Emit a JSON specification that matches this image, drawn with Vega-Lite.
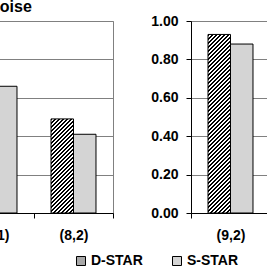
{
"$schema": "https://vega.github.io/schema/vega-lite/v6.json",
"padding": {"left": -86, "top": -2, "right": 0, "bottom": 0},
"title": {"text": "Noise", "anchor": "start", "dx": 74, "offset": -1, "font": "Liberation Sans", "fontSize": 16, "fontWeight": "bold", "color": "#000"},
"data": {"values": [
 {"panel": "left", "cat": "(8,1)", "series": "D-STAR", "value": 0.72},
 {"panel": "left", "cat": "(8,1)", "series": "S-STAR", "value": 0.66},
 {"panel": "left", "cat": "(8,2)", "series": "D-STAR", "value": 0.49},
 {"panel": "left", "cat": "(8,2)", "series": "S-STAR", "value": 0.41},
 {"panel": "right", "cat": "(9,2)", "series": "D-STAR", "value": 0.93},
 {"panel": "right", "cat": "(9,2)", "series": "S-STAR", "value": 0.88}
]},
"spacing": 36,
"hconcat": [
 {
  "width": 158, "height": 192,
  "transform": [{"filter": "datum.panel === 'left'"}],
  "mark": {"type": "bar", "stroke": "#000", "strokeWidth": 1},
  "encoding": {
   "x": {"field": "cat", "type": "nominal", "sort": null, "title": null, "scale": {"paddingInner": 0, "paddingOuter": 0}, "axis": {"labelAngle": 0, "tickBand": "extent", "labelPadding": 10}},
   "xOffset": {"field": "series", "type": "nominal", "scale": {"domain": ["D-STAR", "S-STAR"], "paddingInner": 0, "paddingOuter": 0.7556}},
   "y": {"field": "value", "type": "quantitative", "stack": null, "title": null, "scale": {"domain": [0, 1], "nice": false}, "axis": {"values": [0, 0.2, 0.4, 0.6, 0.8, 1], "format": ".2f", "labelPadding": 8}},
   "color": {
    "field": "series", "type": "nominal",
    "scale": {"domain": ["D-STAR", "S-STAR"], "range": ["#a8a8a8", "#d4d4d4"]},
    "legend": {"title": null, "orient": "none", "legendX": 119, "legendY": 233, "direction": "horizontal", "symbolType": "square", "symbolSize": 81, "symbolStrokeColor": "#000", "symbolStrokeWidth": 1, "symbolOpacity": 1, "labelFont": "Liberation Sans", "labelFontSize": 14, "labelFontWeight": "bold", "labelColor": "#000", "labelOffset": 3, "columnPadding": 27, "padding": 0},
    "condition": {"test": "datum.series === 'D-STAR' && datum.cat === '(8,2)'", "value": {"gradient": "linear", "x1": 0, "y1": 0, "x2": 0.30056, "y2": 1.25677, "stops": [
{"offset":0,"color":"#000"},
{"offset":0.016,"color":"#000"},{"offset":0.016,"color":"#fff"},
{"offset":0.032,"color":"#fff"},{"offset":0.032,"color":"#000"},
{"offset":0.048,"color":"#000"},{"offset":0.048,"color":"#fff"},
{"offset":0.064,"color":"#fff"},{"offset":0.064,"color":"#000"},
{"offset":0.08,"color":"#000"},{"offset":0.08,"color":"#fff"},
{"offset":0.096,"color":"#fff"},{"offset":0.096,"color":"#000"},
{"offset":0.112,"color":"#000"},{"offset":0.112,"color":"#fff"},
{"offset":0.128,"color":"#fff"},{"offset":0.128,"color":"#000"},
{"offset":0.144,"color":"#000"},{"offset":0.144,"color":"#fff"},
{"offset":0.16,"color":"#fff"},{"offset":0.16,"color":"#000"},
{"offset":0.176,"color":"#000"},{"offset":0.176,"color":"#fff"},
{"offset":0.192,"color":"#fff"},{"offset":0.192,"color":"#000"},
{"offset":0.208,"color":"#000"},{"offset":0.208,"color":"#fff"},
{"offset":0.224,"color":"#fff"},{"offset":0.224,"color":"#000"},
{"offset":0.24,"color":"#000"},{"offset":0.24,"color":"#fff"},
{"offset":0.256,"color":"#fff"},{"offset":0.256,"color":"#000"},
{"offset":0.272,"color":"#000"},{"offset":0.272,"color":"#fff"},
{"offset":0.288,"color":"#fff"},{"offset":0.288,"color":"#000"},
{"offset":0.304,"color":"#000"},{"offset":0.304,"color":"#fff"},
{"offset":0.32,"color":"#fff"},{"offset":0.32,"color":"#000"},
{"offset":0.336,"color":"#000"},{"offset":0.336,"color":"#fff"},
{"offset":0.352,"color":"#fff"},{"offset":0.352,"color":"#000"},
{"offset":0.368,"color":"#000"},{"offset":0.368,"color":"#fff"},
{"offset":0.384,"color":"#fff"},{"offset":0.384,"color":"#000"},
{"offset":0.4,"color":"#000"},{"offset":0.4,"color":"#fff"},
{"offset":0.416,"color":"#fff"},{"offset":0.416,"color":"#000"},
{"offset":0.432,"color":"#000"},{"offset":0.432,"color":"#fff"},
{"offset":0.448,"color":"#fff"},{"offset":0.448,"color":"#000"},
{"offset":0.464,"color":"#000"},{"offset":0.464,"color":"#fff"},
{"offset":0.48,"color":"#fff"},{"offset":0.48,"color":"#000"},
{"offset":0.496,"color":"#000"},{"offset":0.496,"color":"#fff"},
{"offset":0.512,"color":"#fff"},{"offset":0.512,"color":"#000"},
{"offset":0.528,"color":"#000"},{"offset":0.528,"color":"#fff"},
{"offset":0.544,"color":"#fff"},{"offset":0.544,"color":"#000"},
{"offset":0.56,"color":"#000"},{"offset":0.56,"color":"#fff"},
{"offset":0.576,"color":"#fff"},{"offset":0.576,"color":"#000"},
{"offset":0.592,"color":"#000"},{"offset":0.592,"color":"#fff"},
{"offset":0.608,"color":"#fff"},{"offset":0.608,"color":"#000"},
{"offset":0.624,"color":"#000"},{"offset":0.624,"color":"#fff"},
{"offset":0.64,"color":"#fff"},{"offset":0.64,"color":"#000"},
{"offset":0.656,"color":"#000"},{"offset":0.656,"color":"#fff"},
{"offset":0.672,"color":"#fff"},{"offset":0.672,"color":"#000"},
{"offset":0.688,"color":"#000"},{"offset":0.688,"color":"#fff"},
{"offset":0.704,"color":"#fff"},{"offset":0.704,"color":"#000"},
{"offset":0.72,"color":"#000"},{"offset":0.72,"color":"#fff"},
{"offset":0.736,"color":"#fff"},{"offset":0.736,"color":"#000"},
{"offset":0.752,"color":"#000"},{"offset":0.752,"color":"#fff"},
{"offset":0.768,"color":"#fff"},{"offset":0.768,"color":"#000"},
{"offset":0.784,"color":"#000"},{"offset":0.784,"color":"#fff"},
{"offset":0.8,"color":"#fff"},{"offset":0.8,"color":"#000"},
{"offset":0.816,"color":"#000"},{"offset":0.816,"color":"#fff"},
{"offset":0.832,"color":"#fff"},{"offset":0.832,"color":"#000"},
{"offset":0.848,"color":"#000"},{"offset":0.848,"color":"#fff"},
{"offset":0.864,"color":"#fff"},{"offset":0.864,"color":"#000"},
{"offset":0.88,"color":"#000"},{"offset":0.88,"color":"#fff"},
{"offset":0.896,"color":"#fff"},{"offset":0.896,"color":"#000"},
{"offset":0.912,"color":"#000"},{"offset":0.912,"color":"#fff"},
{"offset":0.928,"color":"#fff"},{"offset":0.928,"color":"#000"},
{"offset":0.944,"color":"#000"},{"offset":0.944,"color":"#fff"},
{"offset":0.96,"color":"#fff"},{"offset":0.96,"color":"#000"},
{"offset":0.976,"color":"#000"},{"offset":0.976,"color":"#fff"},
{"offset":0.992,"color":"#fff"},{"offset":0.992,"color":"#000"},
{"offset":1,"color":"#000"}
    ]}}
   }
  }
 },
 {
  "width": 79, "height": 192,
  "transform": [{"filter": "datum.panel === 'right'"}],
  "mark": {"type": "bar", "stroke": "#000", "strokeWidth": 1},
  "encoding": {
   "x": {"field": "cat", "type": "nominal", "sort": null, "title": null, "scale": {"paddingInner": 0, "paddingOuter": 0}, "axis": {"labelAngle": 0, "tickBand": "extent", "labelPadding": 10}},
   "xOffset": {"field": "series", "type": "nominal", "scale": {"domain": ["D-STAR", "S-STAR"], "paddingInner": 0, "paddingOuter": 0.7556}},
   "y": {"field": "value", "type": "quantitative", "stack": null, "title": null, "scale": {"domain": [0, 1], "nice": false}, "axis": {"values": [0, 0.2, 0.4, 0.6, 0.8, 1], "format": ".2f", "labelPadding": 8}},
   "color": {
    "field": "series", "type": "nominal",
    "scale": {"domain": ["D-STAR", "S-STAR"], "range": ["#a8a8a8", "#d4d4d4"]},
    "condition": {"test": "datum.series === 'D-STAR' && datum.cat === '(9,2)'", "value": {"gradient": "linear", "x1": 0, "y1": 0, "x2": 0.13893, "y2": 1.10257, "stops": [
{"offset":0,"color":"#000"},
{"offset":0.01,"color":"#000"},{"offset":0.01,"color":"#fff"},
{"offset":0.02,"color":"#fff"},{"offset":0.02,"color":"#000"},
{"offset":0.03,"color":"#000"},{"offset":0.03,"color":"#fff"},
{"offset":0.04,"color":"#fff"},{"offset":0.04,"color":"#000"},
{"offset":0.05,"color":"#000"},{"offset":0.05,"color":"#fff"},
{"offset":0.06,"color":"#fff"},{"offset":0.06,"color":"#000"},
{"offset":0.07,"color":"#000"},{"offset":0.07,"color":"#fff"},
{"offset":0.08,"color":"#fff"},{"offset":0.08,"color":"#000"},
{"offset":0.09,"color":"#000"},{"offset":0.09,"color":"#fff"},
{"offset":0.1,"color":"#fff"},{"offset":0.1,"color":"#000"},
{"offset":0.11,"color":"#000"},{"offset":0.11,"color":"#fff"},
{"offset":0.12,"color":"#fff"},{"offset":0.12,"color":"#000"},
{"offset":0.13,"color":"#000"},{"offset":0.13,"color":"#fff"},
{"offset":0.14,"color":"#fff"},{"offset":0.14,"color":"#000"},
{"offset":0.15,"color":"#000"},{"offset":0.15,"color":"#fff"},
{"offset":0.16,"color":"#fff"},{"offset":0.16,"color":"#000"},
{"offset":0.17,"color":"#000"},{"offset":0.17,"color":"#fff"},
{"offset":0.18,"color":"#fff"},{"offset":0.18,"color":"#000"},
{"offset":0.19,"color":"#000"},{"offset":0.19,"color":"#fff"},
{"offset":0.2,"color":"#fff"},{"offset":0.2,"color":"#000"},
{"offset":0.21,"color":"#000"},{"offset":0.21,"color":"#fff"},
{"offset":0.22,"color":"#fff"},{"offset":0.22,"color":"#000"},
{"offset":0.23,"color":"#000"},{"offset":0.23,"color":"#fff"},
{"offset":0.24,"color":"#fff"},{"offset":0.24,"color":"#000"},
{"offset":0.25,"color":"#000"},{"offset":0.25,"color":"#fff"},
{"offset":0.26,"color":"#fff"},{"offset":0.26,"color":"#000"},
{"offset":0.27,"color":"#000"},{"offset":0.27,"color":"#fff"},
{"offset":0.28,"color":"#fff"},{"offset":0.28,"color":"#000"},
{"offset":0.29,"color":"#000"},{"offset":0.29,"color":"#fff"},
{"offset":0.3,"color":"#fff"},{"offset":0.3,"color":"#000"},
{"offset":0.31,"color":"#000"},{"offset":0.31,"color":"#fff"},
{"offset":0.32,"color":"#fff"},{"offset":0.32,"color":"#000"},
{"offset":0.33,"color":"#000"},{"offset":0.33,"color":"#fff"},
{"offset":0.34,"color":"#fff"},{"offset":0.34,"color":"#000"},
{"offset":0.35,"color":"#000"},{"offset":0.35,"color":"#fff"},
{"offset":0.36,"color":"#fff"},{"offset":0.36,"color":"#000"},
{"offset":0.37,"color":"#000"},{"offset":0.37,"color":"#fff"},
{"offset":0.38,"color":"#fff"},{"offset":0.38,"color":"#000"},
{"offset":0.39,"color":"#000"},{"offset":0.39,"color":"#fff"},
{"offset":0.4,"color":"#fff"},{"offset":0.4,"color":"#000"},
{"offset":0.41,"color":"#000"},{"offset":0.41,"color":"#fff"},
{"offset":0.42,"color":"#fff"},{"offset":0.42,"color":"#000"},
{"offset":0.43,"color":"#000"},{"offset":0.43,"color":"#fff"},
{"offset":0.44,"color":"#fff"},{"offset":0.44,"color":"#000"},
{"offset":0.45,"color":"#000"},{"offset":0.45,"color":"#fff"},
{"offset":0.46,"color":"#fff"},{"offset":0.46,"color":"#000"},
{"offset":0.47,"color":"#000"},{"offset":0.47,"color":"#fff"},
{"offset":0.48,"color":"#fff"},{"offset":0.48,"color":"#000"},
{"offset":0.49,"color":"#000"},{"offset":0.49,"color":"#fff"},
{"offset":0.5,"color":"#fff"},{"offset":0.5,"color":"#000"},
{"offset":0.51,"color":"#000"},{"offset":0.51,"color":"#fff"},
{"offset":0.52,"color":"#fff"},{"offset":0.52,"color":"#000"},
{"offset":0.53,"color":"#000"},{"offset":0.53,"color":"#fff"},
{"offset":0.54,"color":"#fff"},{"offset":0.54,"color":"#000"},
{"offset":0.55,"color":"#000"},{"offset":0.55,"color":"#fff"},
{"offset":0.56,"color":"#fff"},{"offset":0.56,"color":"#000"},
{"offset":0.57,"color":"#000"},{"offset":0.57,"color":"#fff"},
{"offset":0.58,"color":"#fff"},{"offset":0.58,"color":"#000"},
{"offset":0.59,"color":"#000"},{"offset":0.59,"color":"#fff"},
{"offset":0.6,"color":"#fff"},{"offset":0.6,"color":"#000"},
{"offset":0.61,"color":"#000"},{"offset":0.61,"color":"#fff"},
{"offset":0.62,"color":"#fff"},{"offset":0.62,"color":"#000"},
{"offset":0.63,"color":"#000"},{"offset":0.63,"color":"#fff"},
{"offset":0.64,"color":"#fff"},{"offset":0.64,"color":"#000"},
{"offset":0.65,"color":"#000"},{"offset":0.65,"color":"#fff"},
{"offset":0.66,"color":"#fff"},{"offset":0.66,"color":"#000"},
{"offset":0.67,"color":"#000"},{"offset":0.67,"color":"#fff"},
{"offset":0.68,"color":"#fff"},{"offset":0.68,"color":"#000"},
{"offset":0.69,"color":"#000"},{"offset":0.69,"color":"#fff"},
{"offset":0.7,"color":"#fff"},{"offset":0.7,"color":"#000"},
{"offset":0.71,"color":"#000"},{"offset":0.71,"color":"#fff"},
{"offset":0.72,"color":"#fff"},{"offset":0.72,"color":"#000"},
{"offset":0.73,"color":"#000"},{"offset":0.73,"color":"#fff"},
{"offset":0.74,"color":"#fff"},{"offset":0.74,"color":"#000"},
{"offset":0.75,"color":"#000"},{"offset":0.75,"color":"#fff"},
{"offset":0.76,"color":"#fff"},{"offset":0.76,"color":"#000"},
{"offset":0.77,"color":"#000"},{"offset":0.77,"color":"#fff"},
{"offset":0.78,"color":"#fff"},{"offset":0.78,"color":"#000"},
{"offset":0.79,"color":"#000"},{"offset":0.79,"color":"#fff"},
{"offset":0.8,"color":"#fff"},{"offset":0.8,"color":"#000"},
{"offset":0.81,"color":"#000"},{"offset":0.81,"color":"#fff"},
{"offset":0.82,"color":"#fff"},{"offset":0.82,"color":"#000"},
{"offset":0.83,"color":"#000"},{"offset":0.83,"color":"#fff"},
{"offset":0.84,"color":"#fff"},{"offset":0.84,"color":"#000"},
{"offset":0.85,"color":"#000"},{"offset":0.85,"color":"#fff"},
{"offset":0.86,"color":"#fff"},{"offset":0.86,"color":"#000"},
{"offset":0.87,"color":"#000"},{"offset":0.87,"color":"#fff"},
{"offset":0.88,"color":"#fff"},{"offset":0.88,"color":"#000"},
{"offset":0.89,"color":"#000"},{"offset":0.89,"color":"#fff"},
{"offset":0.9,"color":"#fff"},{"offset":0.9,"color":"#000"},
{"offset":0.91,"color":"#000"},{"offset":0.91,"color":"#fff"},
{"offset":0.92,"color":"#fff"},{"offset":0.92,"color":"#000"},
{"offset":0.93,"color":"#000"},{"offset":0.93,"color":"#fff"},
{"offset":0.94,"color":"#fff"},{"offset":0.94,"color":"#000"},
{"offset":0.95,"color":"#000"},{"offset":0.95,"color":"#fff"},
{"offset":0.96,"color":"#fff"},{"offset":0.96,"color":"#000"},
{"offset":0.97,"color":"#000"},{"offset":0.97,"color":"#fff"},
{"offset":0.98,"color":"#fff"},{"offset":0.98,"color":"#000"},
{"offset":0.99,"color":"#000"},{"offset":0.99,"color":"#fff"},
{"offset":1,"color":"#fff"}
    ]}}
   }
  }
 }
],
"config": {
 "view": {"stroke": "#808080", "strokeWidth": 1},
 "axis": {"labelFont": "Liberation Sans", "labelFontSize": 14, "labelFontWeight": "bold", "labelColor": "#000", "domainColor": "#000", "domainWidth": 1, "tickColor": "#000", "tickWidth": 1, "tickSize": 5, "gridColor": "#808080", "gridWidth": 1, "gridOpacity": 1}
}
}
